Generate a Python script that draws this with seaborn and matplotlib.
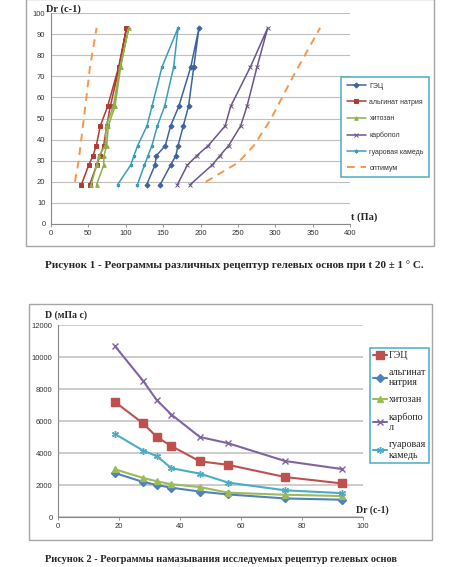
import numpy as np
import pandas as pd
import matplotlib
matplotlib.use('Agg')
import matplotlib.pyplot as plt
from matplotlib.patches import Rectangle
import seaborn as sns

# ---- data, chart 1 (shear stress vs shear rate, up and down curves)
dr = [18.6, 27.9, 32.4, 37.2, 46.5, 55.8, 74.4, 93.0]

gec_up = [128, 139, 141, 153, 160, 171, 187, 198]
gec_down = [146, 160, 167, 170, 177, 184, 191, 198]
alg_up = [40.6, 50.4, 56.2, 60.6, 66, 75.8, 90.5, 101]
alg_down = [51.7, 61.1, 65.6, 70.5, 74.5, 79.4, 91.4, 101]
chit_up = [53.5, 61, 64.2, 72.7, 73.6, 83.4, 92.3, 104]
chit_down = [61, 70.5, 70.9, 74.5, 76.7, 85.6, 93.2, 104]
carb_up = [169, 182.4, 195, 210.5, 233, 240.4, 266.7, 290]
carb_down = [186, 215.4, 226, 237.7, 253.7, 262.2, 275.6, 290]
guar_up = [89, 106.6, 111, 116, 128.4, 135.1, 148.5, 170]
guar_down = [115.5, 125, 129.8, 135.1, 142.3, 152, 164.1, 170]

opt1_dr = [20, 28, 37, 46, 56, 74, 93]
opt1_t = [32, 36, 39.5, 42.5, 46, 52, 61]
opt2_dr = [20, 29, 37, 49, 70, 93]
opt2_t = [207, 250, 271, 293, 324, 360]

names1 = ['ГЭЦ', 'альгинат натрия', 'хитозан', 'карбопол', 'гуаровая камедь']
colors1 = ['#3D64A0', '#B03A36', '#8DB04A', '#6B5590', '#3A9DB8']
markers1 = ['D', 's', '^', 'x', (6, 2, 0)]

# ---- data, chart 2 (viscosity vs shear rate)
D_gec = [7200, 5850, 5000, 4430, 3480, 3260, 2500, 2100]
D_alg = [2750, 2190, 2000, 1830, 1590, 1410, 1160, 1080]
D_chit = [2990, 2440, 2230, 2050, 1870, 1520, 1390, 1310]
D_carb = [10700, 8510, 7300, 6400, 5000, 4610, 3500, 3000]
D_guar = [5200, 4150, 3800, 3050, 2710, 2150, 1670, 1490]

names2 = ['ГЭЦ', 'альгинат\nнатрия', 'хитозан', 'карбопо\nл', 'гуаровая\nкамедь']
colors2 = ['#C0504D', '#4F81BD', '#9BBB59', '#8064A2', '#4BACC6']
markers2 = ['s', 'D', '^', 'x', (6, 2, 0)]

sns.set_style('white')
plt.rcParams['font.family'] = ['Liberation Sans', 'DejaVu Sans']

W, H = 474, 567
fig = plt.figure(figsize=(W / 100, H / 100), dpi=100)

def fx(px):
    return px / W

def fy(py):
    return 1 - py / H

# chart frames
fig.patches.append(Rectangle((fx(26), fy(246)), fx(408), 247 / H, transform=fig.transFigure,
                             fill=False, edgecolor='#A6A6A6', lw=1))
fig.patches.append(Rectangle((fx(29), fy(540)), fx(403), 236 / H, transform=fig.transFigure,
                             fill=False, edgecolor='#A6A6A6', lw=1))


def style_axes(ax):
    for s in ['top', 'right']:
        ax.spines[s].set_visible(False)
    for s in ['left', 'bottom']:
        ax.spines[s].set_color('#888888')
        ax.spines[s].set_linewidth(0.8)
    ax.grid(axis='y', color='#BFBFBF', lw=0.8)
    ax.grid(axis='x', visible=False)
    ax.set_axisbelow(True)
    ax.tick_params(axis='both', labelsize=5.5, colors='#333333', length=2, width=0.6,
                   direction='out', pad=2, left=False)
    ax.tick_params(axis='x', bottom=True, color='#888888')
    ax.set_xlabel('')
    ax.set_ylabel('')


# ---- chart 1
ax1 = fig.add_axes([fx(51), fy(224), fx(299), 211 / H])
ups = [gec_up, alg_up, chit_up, carb_up, guar_up]
downs = [gec_down, alg_down, chit_down, carb_down, guar_down]
for name, col, mk, up, down in zip(names1, colors1, markers1, ups, downs):
    df = pd.DataFrame({'t': up + down[-2::-1], 'dr': dr + dr[-2::-1]})
    sns.lineplot(data=df, x='t', y='dr', sort=False, estimator=None, ax=ax1, color=col,
                 marker=mk, markersize=2.6, markeredgewidth=0.7, markeredgecolor=col,
                 lw=1.1, label=name)
sns.lineplot(x=opt1_t, y=opt1_dr, sort=False, estimator=None, ax=ax1, color='#F79646',
             lw=1.4, dashes=(4, 3), label='оптимум')
sns.lineplot(x=opt2_t, y=opt2_dr, sort=False, estimator=None, ax=ax1, color='#F79646',
             lw=1.4, dashes=(4, 3))
ax1.set_xlim(0, 400)
ax1.set_ylim(0, 100)
ax1.set_xticks(range(0, 401, 50))
ax1.set_yticks(range(0, 101, 10))
style_axes(ax1)
h, l = ax1.get_legend_handles_labels()
ax1.legend(h, l, loc='upper left', bbox_to_anchor=(fx(341), fy(77)), bbox_transform=fig.transFigure,
           fontsize=5, frameon=True, fancybox=False, edgecolor='#4BACC6', framealpha=1,
           handlelength=2.8, labelspacing=1.35, borderpad=0.8, handletextpad=0.5,
           borderaxespad=0, labelcolor='#333333').get_frame().set_linewidth(1.1)

fig.text(fx(46), fy(9), 'Dr (с-1)', family='Liberation Serif', weight='bold', fontsize=7.5,
         va='center', ha='left')
fig.text(fx(351), fy(217), 't (Па)', family='Liberation Serif', weight='bold', fontsize=7.5,
         va='center', ha='left')
fig.text(fx(45), fy(265), 'Рисунок 1 - Реограммы различных рецептур гелевых основ при t 20 ± 1 ° С.',
         family='Liberation Serif', weight='bold', fontsize=8.0, va='center', ha='left')

# ---- chart 2
ax2 = fig.add_axes([fx(58), fy(517), fx(305), 192 / H])
series2 = [D_gec, D_alg, D_chit, D_carb, D_guar]
sizes2 = [6, 4, 5, 5, 5]
for name, col, mk, vals, ms in zip(names2, colors2, markers2, series2, sizes2):
    sns.lineplot(x=dr, y=vals, sort=False, estimator=None, ax=ax2, color=col, marker=mk,
                 markersize=ms, markeredgewidth=1, markeredgecolor=col, lw=1.5, label=name)
ax2.set_xlim(0, 100)
ax2.set_ylim(0, 12000)
ax2.set_xticks(range(0, 101, 20))
ax2.set_yticks(range(0, 12001, 2000))
style_axes(ax2)
ax2.grid(axis='y', color='#BFBFBF', lw=1.1)
h, l = ax2.get_legend_handles_labels()
ax2.legend(h, l, loc='upper left', bbox_to_anchor=(fx(370), fy(348)), bbox_transform=fig.transFigure,
           prop={'family': 'Liberation Serif', 'size': 7.2}, frameon=True, fancybox=False,
           edgecolor='#4BACC6', framealpha=1, handlelength=1.4, labelspacing=0.8,
           borderpad=0.3, handletextpad=0.2, borderaxespad=0).get_frame().set_linewidth(1.1)

fig.text(fx(45), fy(315), 'D (мПа с)', family='Liberation Serif', weight='bold', fontsize=7,
         va='center', ha='left')
fig.text(fx(356), fy(510), 'Dr (с-1)', family='Liberation Serif', weight='bold', fontsize=7,
         va='center', ha='left')
fig.text(fx(45), fy(559), 'Рисунок 2 - Реограммы намазывания исследуемых рецептур гелевых основ',
         family='Liberation Serif', weight='bold', fontsize=7.4, va='center', ha='left')

fig.savefig('out.png', dpi=100, facecolor='white')
